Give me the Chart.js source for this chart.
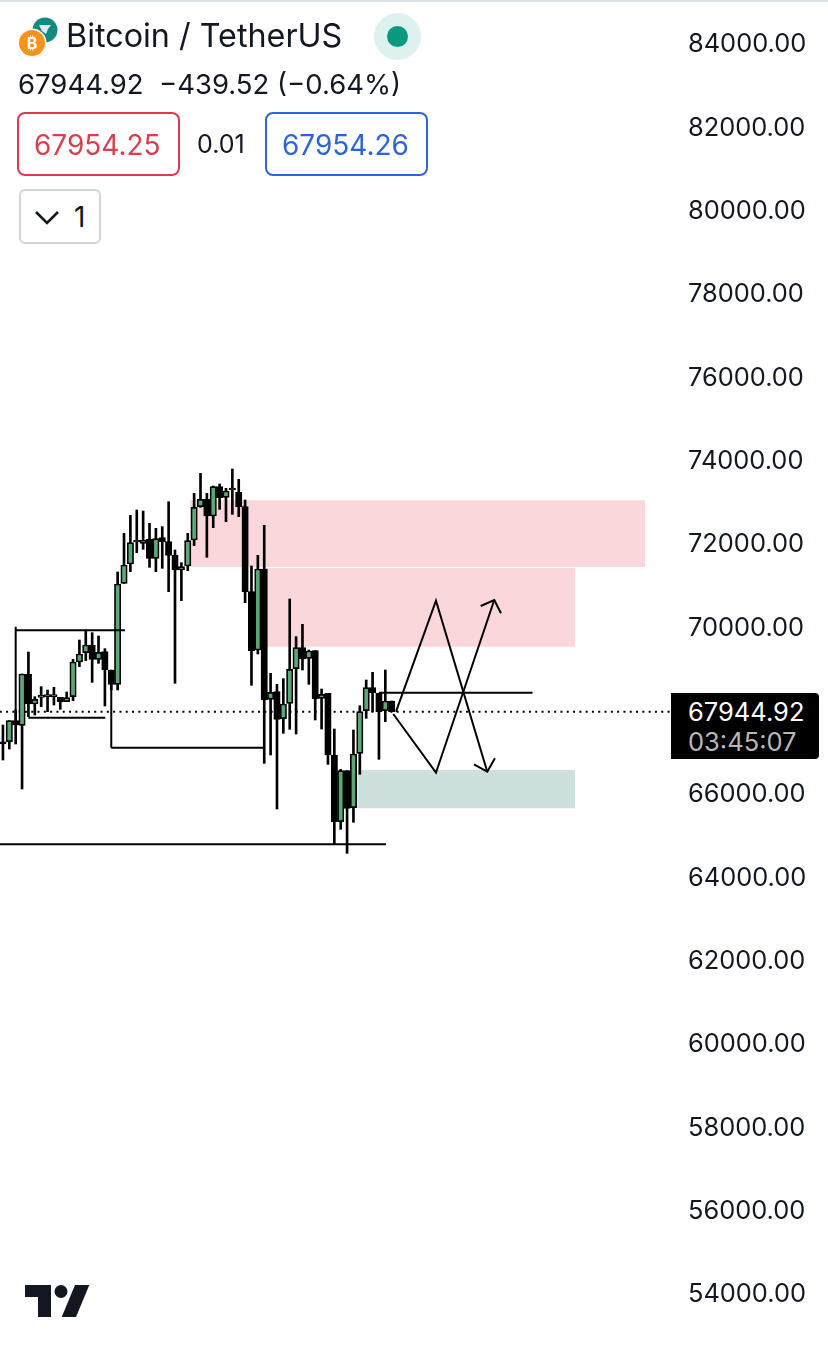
<!DOCTYPE html>
<html lang="en">
<head>
    <meta charset="UTF-8">
    <title>Bitcoin / TetherUS</title>
    <style>
        html, body { margin: 0; padding: 0; background: #fff; }
        body { width: 828px; height: 1350px; position: relative; overflow: hidden; font-family: Inter, "Noto Sans", sans-serif; color: #131722; }
        canvas { position: absolute; left: 0; top: 0; }
        .abs { position: absolute; white-space: nowrap; line-height: 1; }
        .box { position: absolute; box-sizing: border-box; background: #fff; }
    </style>
</head>
<body>
    <canvas id="chart" width="828" height="1350"></canvas>

    <div class="abs" style="left:0;top:0;width:828px;height:2px;background:#d9e3e9"></div>

    <!-- coin icons -->
    <svg class="abs" style="left:15px;top:12px" width="50" height="48" viewBox="15 12 50 48">
        <circle cx="45" cy="30" r="12.5" fill="#138a80"/>
        <path d="M39 25 h12 l-3 4 l-2 5 l-4 -3 z" fill="#fff" opacity="0.85"/>
        <circle cx="32" cy="43" r="14.5" fill="#fff"/>
        <circle cx="32" cy="43" r="13" fill="#f7931a"/>
        <text x="32" y="49" text-anchor="middle" font-family="Inter" font-size="16" font-weight="700" fill="#fff">₿</text>
    </svg>
    <div class="abs" id="title" style="left:66px;top:20px;font-size:32.3px">Bitcoin / TetherUS</div>

    <svg class="abs" style="left:374px;top:13px" width="47" height="47">
        <circle cx="23.5" cy="23.5" r="23.5" fill="#dff1ee"/>
        <circle cx="23.5" cy="23.5" r="10.5" fill="#089981"/>
    </svg>

    <div class="abs" style="left:18px;top:71px;font-size:27.5px">67944.92</div>
    <div class="abs" style="left:159px;top:71px;font-size:27.5px">−439.52 (−0.64%)</div>

    <div class="box" style="left:17px;top:112px;width:163px;height:64px;border:2px solid #e0394c;border-radius:8px"></div>
    <div class="abs" style="left:34px;top:131px;font-size:28px;color:#d8404f">67954.25</div>
    <div class="abs" style="left:197px;top:132px;font-size:25px">0.01</div>
    <div class="box" style="left:265px;top:112px;width:163px;height:64px;border:2px solid #2d62e0;border-radius:8px"></div>
    <div class="abs" style="left:282px;top:131px;font-size:28px;color:#2e63d9">67954.26</div>

    <div class="box" style="left:19px;top:189px;width:82px;height:55px;border:2px solid #d1d4dc;border-radius:6px"></div>
    <svg class="abs" style="left:33px;top:208px" width="28" height="20">
        <path d="M3 4 L14 15 L25 4" fill="none" stroke="#131722" stroke-width="2.6"/>
    </svg>
    <div class="abs" style="left:74px;top:203px;font-size:28px">1</div>

    <!-- last price label -->
    <div class="box" style="left:671px;top:693px;width:148px;height:66px;background:#000;border-radius:0 4px 4px 0"></div>
    <div class="abs" style="left:688px;top:699px;font-size:25.5px;color:#fff">67944.92</div>
    <div class="abs" style="left:688px;top:729px;font-size:25.5px;color:#b8b8b8">03:45:07</div>

    <!-- logo -->
    <svg class="abs" style="left:20px;top:1280px" width="74" height="42" viewBox="20 1280 74 42">
        <path d="M25 1285 H51 V1317 H38 V1297 H25 Z" fill="#131722"/>
        <circle cx="61" cy="1291.5" r="6.5" fill="#131722"/>
        <path d="M75 1285 H89.3 L76 1317 H61.7 Z" fill="#131722"/>
    </svg>

    <script src="https://cdn.jsdelivr.net/npm/chart.js"></script>
    <script>
        const opens = [67190,67224,67728,67616,68848,68128,68288,68304,68304,68288,68184,68304,69136,69360,69544,69200,69384,68944,68600,71024,71488,72016,71984,72080,71624,72120,72024,71696,71344,71440,72064,72864,73040,72640,73344,73088,73264,73208,72864,70824,69424,71368,68240,68424,67776,68144,68976,69480,69224,69408,68264,68384,66904,65304,66528,65640,66944,67968,68520,68384,67968,68200];
        const highs = [67624,67728,67984,68848,69376,68304,68544,68464,68528,68288,68416,69200,69664,69904,69840,69760,69456,68944,71296,72224,72656,72784,72760,72464,72344,72384,72984,71824,71520,72224,73184,73664,73184,73360,73408,73304,73768,73520,73024,71440,71696,72416,68864,68600,68736,70648,69744,70040,69424,69408,68488,68384,67528,66560,66528,67504,68088,68704,68888,68384,68944,68200];
        const lows = [66784,67048,67168,66088,67824,67864,68064,67944,68104,68000,68184,68208,69024,69168,68648,69104,68080,68464,68464,71024,71304,71760,71840,71408,71304,71384,70824,68624,70608,71328,71928,72848,71648,72360,72800,72504,72680,72624,70560,68576,69328,66704,66904,65608,67424,67520,67408,68944,68600,67744,67528,66680,64760,65120,64544,65288,66440,67784,67944,66800,67704,67944];
        const closes = [67170,67728,67624,68848,68128,68240,68288,68304,68304,68184,68280,69136,69328,69544,69200,69368,68944,68600,71008,71464,72000,72016,72064,71624,72096,72024,71696,71344,71424,72048,72848,73040,72640,73344,73080,73240,73264,72864,70824,69408,71368,68224,68408,67760,68128,68960,69480,69208,69400,68256,68360,66904,65304,66528,65624,66928,67944,68520,68400,67944,68200,67944.92];

        const priceTicks = [84000,82000,80000,78000,76000,74000,72000,70000,68000,66000,64000,62000,60000,58000,56000,54000];
        const lastPrice = 67944.92;

        // zones: [left bar, right bar, top price, bottom price]
        const supplyZoneA = [29.35, 100.75, 73016, 71416];
        const supplyZoneB = [41, 89.8, 71392, 69504];
        const demandZone = [55.6, 89.8, 66544, 65624];

        // drawn lines, [bar, price]
        const boxOneVertical = [[2, 69984], [2, 67624]];
        const boxOneTop = [[2, 69896], [19.15, 69896]];
        const boxOneBottom = [[4, 67800], [16.06, 67800]];
        const boxTwoVertical = [[17, 68944], [17, 67080]];
        const boxTwoBottom = [[17, 67080], [41, 67080]];
        const lowLine = [[-0.5, 64760], [60.1, 64760]];
        const pivotLine = [[59, 68400], [83.1, 68400]];
        const pathDown = [[61.68, 67943], [67.95, 70607], [76, 66503]];
        const pathDownHead = [[73.9, 66681], [76, 66503], [77.2, 66825]];
        const pathUp = [[61.25, 67888], [67.95, 66479], [77.1, 70624]];
        const pathUpHead = [[74.97, 70480], [77.1, 70624], [78.15, 70305]];
        const lastLine = [[-0.5, lastPrice], [104.85, lastPrice]];

        const toPoints = arr => arr.map(p => ({x: p[0], y: p[1]}));
        const line = (arr) => ({
            type: 'scatter', showLine: true, data: toPoints(arr), order: 1,
            borderColor: '#000', borderWidth: 2, pointRadius: 0, tension: 0
        });
        const zone = (z, color) => ({
            type: 'scatter', showLine: true, order: 5,
            data: [{x: z[0], y: z[2]}, {x: z[1], y: z[2]}],
            fill: {value: z[3]}, backgroundColor: color,
            borderWidth: 0, borderColor: color, pointRadius: 0
        });

        const bars = closes.map((c, i) => i);
        const bodyColors = closes.map((c, i) => c >= opens[i] ? '#5aa874' : '#000');

        // tick labels sit a touch lower than canvas middle baseline
        const nudgeLabels = {
            id: 'nudgeLabels',
            beforeDraw(chart) {
                chart.scales.y.getLabelItems().forEach(item => { item.textOffset += 2; });
            }
        };

        const chart = new Chart(document.getElementById('chart').getContext('2d'), {
            type: 'bar',
            plugins: [nudgeLabels],
            data: {
                datasets: [
                    zone(supplyZoneA, '#fad7da'),
                    zone(supplyZoneB, '#fad7da'),
                    zone(demandZone, '#cde0dd'),
                    {
                        data: bars.map(i => ({x: i, y: [lows[i], highs[i]]})),
                        backgroundColor: '#000', barThickness: 2, grouped: false, order: 3
                    },
                    {
                        data: bars.map(i => ({x: i, y: [opens[i], closes[i]]})),
                        backgroundColor: bodyColors, borderColor: '#000', borderWidth: 1.7,
                        borderSkipped: false, barThickness: 6.4, minBarLength: 2, grouped: false, order: 2
                    },
                    {
                        type: 'scatter', showLine: true, data: toPoints(lastLine), order: 4,
                        borderColor: '#000', borderWidth: 2, borderDash: [2, 4.3], pointRadius: 0
                    },
                    line(boxOneVertical), line(boxOneTop), line(boxOneBottom),
                    line(boxTwoVertical), line(boxTwoBottom), line(lowLine), line(pivotLine),
                    line(pathDown), line(pathDownHead), line(pathUp), line(pathUpHead)
                ]
            },
            options: {
                responsive: false,
                animation: false,
                layout: {padding: 0},
                plugins: {legend: {display: false}, tooltip: {enabled: false}},
                scales: {
                    x: {
                        type: 'linear', display: false, offset: false,
                        min: -0.46, max: 106.24,
                        grid: {display: false}
                    },
                    y: {
                        position: 'right',
                        min: 52624, max: 85024,
                        grid: {display: false, drawTicks: false},
                        border: {display: false},
                        afterFit: s => { s.width = 148; s.paddingTop = 0; s.paddingBottom = 0; },
                        afterBuildTicks: s => { s.ticks = priceTicks.map(v => ({value: v})); },
                        ticks: {
                            padding: 8,
                            autoSkip: false,
                            color: '#131722',
                            font: {family: 'Inter', size: 25.4},
                            callback: v => v.toFixed(2)
                        }
                    }
                }
            }
        });
    </script>
</body>
</html>
